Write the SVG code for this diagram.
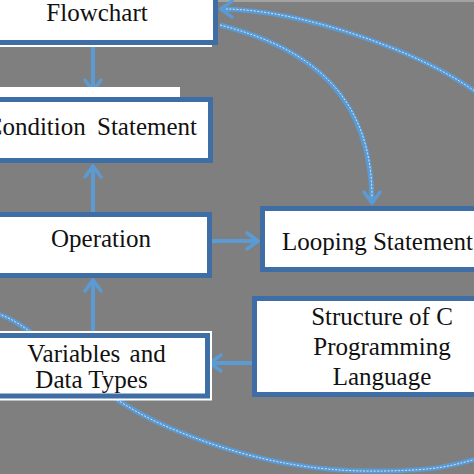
<svg xmlns="http://www.w3.org/2000/svg" width="474" height="474" viewBox="0 0 474 474">
<style>
.box{fill:#ffffff;stroke:#3f6ea6;stroke-width:5}
.halo{fill:none;stroke:#ffffff;stroke-width:9}
.lbl{font-family:"Liberation Serif","Times New Roman",serif;font-size:25px;fill:#111111}
.arr{fill:none;stroke:#5b9bd5;stroke-width:4}
.cv{fill:none;stroke:#5b9bd5;stroke-width:5}
.cvi{fill:none;stroke:#d3e5f6;stroke-width:1;stroke-dasharray:2 1.5}
</style>
<defs>
<marker id="ah" markerUnits="userSpaceOnUse" viewBox="-14 -11 16 22" refX="0" refY="0" markerWidth="16" markerHeight="22" orient="auto">
<path d="M -11 -8 L 0 0 L -11 8" fill="none" stroke="#5b9bd5" stroke-width="3.5" stroke-linecap="round"/>
</marker>
</defs>
<rect x="0" y="0" width="474" height="474" fill="#7f7f7f"/>
<rect x="0" y="0" width="474" height="2" fill="#a3a3a3"/>
<g id="connectors">
<path class="cv" d="M -5 313 C 40 325, 80 390, 170 428 S 330 472, 385 471 S 450 466, 480 458"/>
<path class="cvi" d="M -5 313 C 40 325, 80 390, 170 428 S 330 472, 385 471 S 450 466, 480 458"/>
<path class="cv" d="M 480 95 C 420 50, 300 10, 221 9" marker-end="url(#ah)"/>
<path class="cvi" d="M 480 95 C 420 50, 300 10, 226 9"/>
<path class="cv" d="M 220 25 C 310 48, 372 95, 372 203" marker-end="url(#ah)"/>
<path class="cvi" d="M 220 25 C 310 48, 372 95, 372 198"/>
<path class="arr" d="M 93 45 L 93 91" marker-end="url(#ah)"/>
<path class="arr" d="M 93 212 L 93 166" marker-end="url(#ah)"/>
<path class="arr" d="M 93 333 L 93 280" marker-end="url(#ah)"/>
<path class="arr" d="M 212 241 L 258 241" marker-end="url(#ah)"/>
<path class="arr" d="M 252 363 L 210 363" marker-end="url(#ah)"/>
</g>
<g id="flowchart">
<rect x="0" y="45" width="212" height="2" fill="#ffffff"/>
<rect class="box" x="-10" y="-10" width="225.5" height="52.5"/>
<text class="lbl" x="97" y="21" text-anchor="middle">Flowchart</text>
</g>
<g id="condition">
<rect x="0" y="87" width="180" height="10" fill="#ffffff"/>
<rect class="box" x="-10" y="99.5" width="220.5" height="61"/>
<text class="lbl" x="197" y="135" text-anchor="end" word-spacing="5">Condition Statement</text>
</g>
<g id="operation">
<rect class="box" x="-10" y="214.5" width="219.5" height="61"/>
<text class="lbl" x="101" y="247" text-anchor="middle">Operation</text>
</g>
<g id="looping">
<rect class="box" x="262.5" y="208.5" width="230" height="61"/>
<text class="lbl" x="282" y="250">Looping Statement</text>
</g>
<g id="structure">
<rect class="box" x="254.5" y="298.5" width="240" height="96"/>
<text class="lbl" x="382" y="325" text-anchor="middle">Structure of C</text>
<text class="lbl" x="382" y="355" text-anchor="middle">Programming</text>
<text class="lbl" x="382" y="385" text-anchor="middle">Language</text>
</g>
<g id="variables">
<rect class="halo" x="-10" y="335.5" width="217.5" height="60.5"/>
<rect class="box" x="-10" y="335.5" width="217.5" height="60.5"/>
<text class="lbl" x="96.5" y="362" text-anchor="middle" word-spacing="3">Variables and</text>
<text class="lbl" x="91.5" y="388" text-anchor="middle">Data Types</text>
</g>
</svg>
